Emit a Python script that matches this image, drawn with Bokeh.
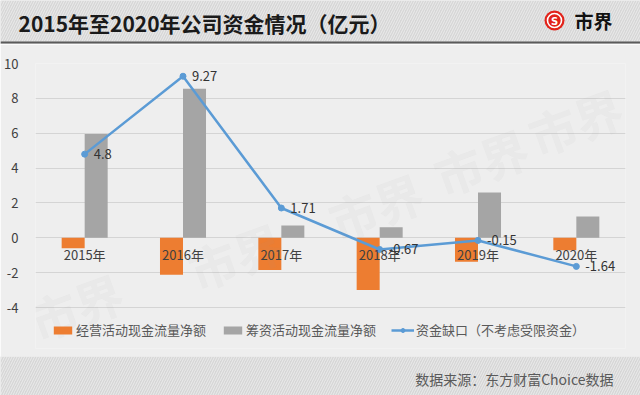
from bokeh.plotting import figure
from bokeh.layouts import column
from bokeh.models import (ColumnDataSource, FactorRange, Range1d, FixedTicker, Legend,
                          LegendItem, Label)
from bokeh.transform import dodge
from bokeh.core.properties import value
from bokeh.embed import file_html
from bokeh.resources import INLINE

FONT = "Noto Sans CJK SC"

# ---------------- data ----------------
years = ["2015年", "2016年", "2017年", "2018年", "2019年", "2020年"]
operating_cf = [-0.60, -2.12, -1.84, -3.00, -1.38, -0.72]   # 经营活动现金流量净额
financing_cf = [5.95, 8.55, 0.70, 0.60, 2.60, 1.22]         # 筹资活动现金流量净额
funding_gap = [4.8, 9.27, 1.71, -0.67, -0.15, -1.64]        # 资金缺口（不考虑受限资金）
gap_labels = ["4.8", "9.27", "1.71", "-0.67", "-0.15", "-1.64"]
y_ticks = [-4, -2, 0, 2, 4, 6, 8, 10]

title_text = "2015年至2020年公司资金情况（亿元）"
source_text = "数据来源：东方财富Choice数据"
series_names = ["经营活动现金流量净额", "筹资活动现金流量净额", "资金缺口（不考虑受限资金）"]

W = 640
BAND = "#d6d6d6"
BG = "#eeeeee"

# ---------------- header ----------------
HH = 44
hdr = figure(width=W, height=HH, x_range=Range1d(0, W), y_range=Range1d(0, HH),
             x_axis_type=None, y_axis_type=None, min_border=0, outline_line_color=None,
             toolbar_location=None, output_backend="svg",
             background_fill_color=BAND, border_fill_color=BAND)
hdr.frame_align = False
hdr.quad(left=0, right=W, bottom=3, top=HH, fill_alpha=0, line_alpha=0,
         hatch_pattern="/", hatch_color="white", hatch_alpha=0.5, hatch_scale=5, hatch_weight=1)
hdr.quad(left=0, right=W, bottom=0, top=1, color=BG, line_alpha=0)
hdr.quad(left=0, right=W, bottom=1, top=3, color="#5a5a5a", line_alpha=0)
hdr.add_layout(Label(x=18, y=22, text=title_text, text_font=FONT, text_font_size="21px",
                     text_font_style="bold", text_color="#1a1a1a", text_baseline="middle"))
hdr.circle(x=[554], y=[24], radius=10, color="#e2231a", line_alpha=0)
hdr.annulus(x=[554], y=[24], inner_radius=6.2, outer_radius=7.8, color="white", line_alpha=0)
hdr.add_layout(Label(x=554, y=23.5, text="S", text_font="DejaVu Sans", text_font_size="10px",
                     text_font_style="bold", text_color="white", text_align="center",
                     text_baseline="middle"))
hdr.add_layout(Label(x=574, y=24, text="市界", text_font=FONT, text_font_size="19px",
                     text_font_style="bold", text_color="#111111", text_baseline="middle"))

# ---------------- chart ----------------
src = ColumnDataSource(dict(year=years, op=operating_cf, fin=financing_cf,
                            gap=funding_gap, gap_label=gap_labels))

# the frame reaches below -4 so that the legend sits inside it
p = figure(width=W, height=312, x_range=FactorRange(*years), y_range=Range1d(-6.35, 10),
           x_axis_location=None, toolbar_location=None, output_backend="svg",
           background_fill_color=BG, border_fill_color=BG, outline_line_color=None,
           min_border_left=35, min_border_right=15, min_border_top=19, min_border_bottom=8)
p.frame_align = False

# watermarks
for wx, wy in [(0.41, -3.9), (2.03, -1.0), (3.46, 1.85), (4.53, 4.4), (5.49, 6.7)]:
    p.add_layout(Label(x=wx, y=wy, text="市界", text_font=FONT, text_font_size="48px",
                       text_font_style="bold", text_color="#9a9a9a", text_alpha=0.06,
                       angle=0.35, text_align="center", text_baseline="middle"))

p.xgrid.visible = False
p.ygrid.ticker = FixedTicker(ticks=y_ticks)
p.ygrid.grid_line_color = "#d4d4d4"
p.ygrid.grid_line_width = 1

ax = p.yaxis[0]
ax.ticker = FixedTicker(ticks=y_ticks)
ax.major_label_overrides = {t: str(t) for t in y_ticks}
ax.axis_line_color = None
ax.major_tick_line_color = None
ax.minor_tick_line_color = None
ax.major_label_standoff = 11
ax.major_label_text_font = FONT
ax.major_label_text_font_size = "13px"
ax.major_label_text_color = "#404040"

r_op = p.vbar(x=dodge("year", -0.117, range=p.x_range), top="op", width=0.234,
              source=src, color="#ed7d31", line_alpha=0)
r_fin = p.vbar(x=dodge("year", 0.117, range=p.x_range), top="fin", width=0.234,
               source=src, color="#a5a5a5", line_alpha=0)
r_line = p.line(x="year", y="gap", source=src, line_color="#5b9bd5", line_width=2.5)
r_pts = p.scatter(x="year", y="gap", source=src, size=6, color="#5b9bd5")

# category labels just below the zero line
p.text(x="year", y=0, text="year", source=src, y_offset=17, text_align="center",
       text_baseline="middle", text_font=value(FONT), text_font_size="13px",
       text_color="#404040")
# data labels
p.text(x="year", y="gap", text="gap_label", source=src, x_offset=9, text_align="left",
       text_baseline="middle", text_font=value(FONT), text_font_size="13px",
       text_color="#333333")

legend = Legend(items=[LegendItem(label=series_names[0], renderers=[r_op]),
                       LegendItem(label=series_names[1], renderers=[r_fin]),
                       LegendItem(label=series_names[2], renderers=[r_line, r_pts])],
                location=(16, 9), orientation="horizontal",
                background_fill_alpha=0, border_line_alpha=0,
                glyph_width=23, glyph_height=10, label_height=10, label_standoff=2,
                spacing=15, padding=0, margin=0,
                label_text_font=FONT, label_text_font_size="13px",
                label_text_color="#595959", label_text_baseline="middle")
p.add_layout(legend)

# ---------------- footer ----------------
FH = 39
ftr = figure(width=W, height=FH, x_range=Range1d(0, W), y_range=Range1d(0, FH),
             x_axis_type=None, y_axis_type=None, min_border=0, outline_line_color=None,
             toolbar_location=None, output_backend="svg",
             background_fill_color=BAND, border_fill_color=BAND)
ftr.frame_align = False
ftr.quad(left=0, right=W, bottom=0, top=FH, fill_alpha=0, line_alpha=0,
         hatch_pattern="/", hatch_color="white", hatch_alpha=0.5, hatch_scale=5, hatch_weight=1)
ftr.add_layout(Label(x=613, y=17, text=source_text, text_font=FONT, text_font_size="14px",
                     text_color="#5a5a5a", text_align="right", text_baseline="middle"))

layout = column(hdr, p, ftr, spacing=0)
open("out.html", "w").write(file_html(layout, INLINE))
